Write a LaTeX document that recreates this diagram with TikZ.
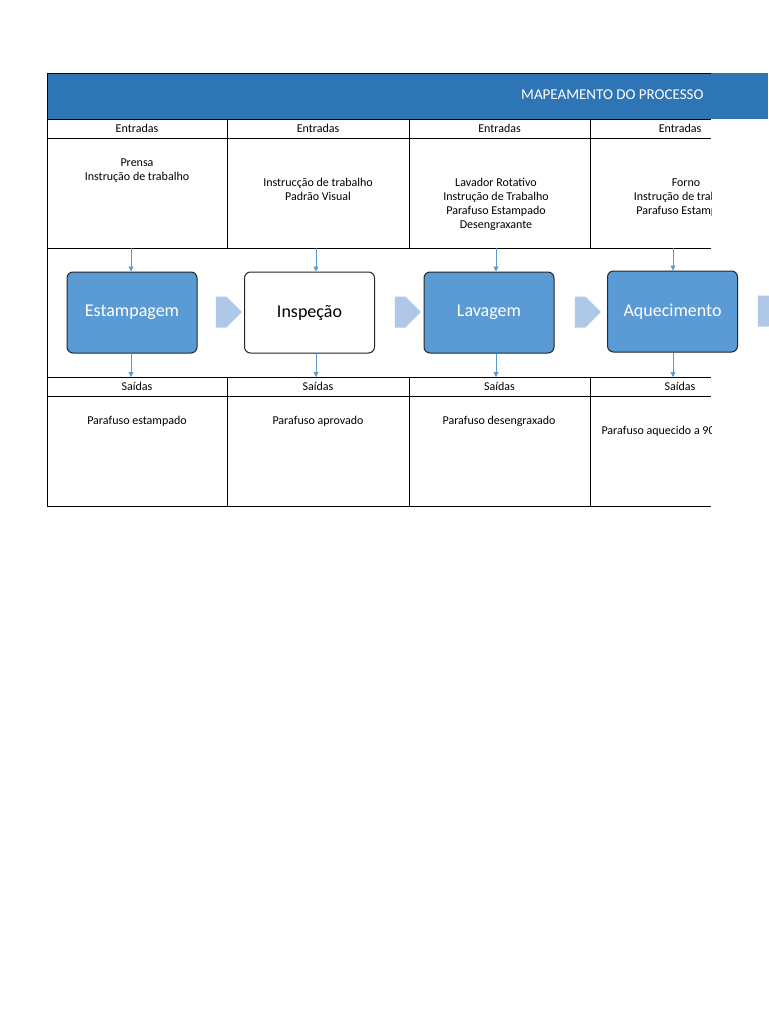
\documentclass[tikz,border=0pt]{standalone}
\usepackage{fontspec}
\setmainfont{Carlito}
\usetikzlibrary{shapes.arrows,arrows.meta}
\definecolor{hdr}{HTML}{2E75B6}
\definecolor{box}{HTML}{5B9BD5}
\definecolor{barrow}{HTML}{AFC8E8}
\definecolor{sarrow}{HTML}{5B9BD5}
\begin{document}
\begin{tikzpicture}[x=1pt,y=-1pt,
 grid/.style={line width=0.8pt,black},
 lbl/.style={font=\fontsize{12}{14}\selectfont,align=center,text=black},
 proc/.style={rounded corners=6pt,draw=black!85,line width=1pt,minimum width=130pt,minimum height=81pt,font=\fontsize{18}{20}\selectfont,inner sep=0pt},
 big/.style={single arrow,draw=none,fill=barrow,minimum width=31pt,single arrow head extend=0pt,single arrow tip angle=90,minimum height=26pt,inner sep=0pt},
 small/.style={-{Triangle[length=5pt,width=5pt]},sarrow,line width=0.8pt}]
\useasboundingbox (0,0) rectangle (768,1024);
\fill[white] (0,0) rectangle (768,1024);
\fill[hdr] (47,73) rectangle (768,119);
\begin{scope}
\clip (0,0) rectangle (711,1024);
\node[anchor=east,text=white,font=\fontsize{15}{17}\selectfont] (title) at (707,95) {MAPEAMENTO DO PROCESSO};
\draw[grid] (47,73) -- (711,73);
\draw[grid] (47,73) -- (47,506);
\foreach \y in {119,138,248,377,396,506} \draw[grid] (47,\y) -- (711,\y);
\foreach \x in {227,409,590} {\draw[grid] (\x,119) -- (\x,248); \draw[grid] (\x,377) -- (\x,506);}
\foreach \c/\n in {137/a,318/b,499.5/c,680/d} {
 \node[lbl] (e\n) at (\c,128) {Entradas};
 \node[lbl] (s\n) at (\c,386) {Saídas};}
\node[lbl,anchor=north] (i1) at (137,155) {Prensa\\Instrução de trabalho};
\node[lbl,anchor=north] (i2) at (318,175) {Instrucção de trabalho\\Padrão Visual};
\node[lbl,anchor=north] (i3) at (496,175) {Lavador Rotativo\\Instrução de Trabalho\\Parafuso Estampado\\Desengraxante};
\node[lbl,anchor=north] (i4) at (686,175) {Forno\\Instrução de trabalho\\Parafuso Estampado};
\node[lbl] (o1) at (137,421) {Parafuso estampado};
\node[lbl] (o2) at (318,421) {Parafuso aprovado};
\node[lbl] (o3) at (499,421) {Parafuso desengraxado};
\node[lbl,anchor=west] (o4) at (598,431) {Parafuso aquecido a 900 ºC};
\end{scope}
\node[proc,fill=box,text=white] (p1) at (132,312.5) {Estampagem};
\node[proc,fill=white,text=black] (p2) at (309.5,312.5) {Inspeção};
\node[proc,fill=box,text=white] (p3) at (489,312.5) {Lavagem};
\node[proc,fill=box,text=white] (p4) at (672.5,311.5) {Aquecimento};
\node[big] (a1) at (221,312) {};
\node[big] (a2) at (400,312) {};
\node[big] (a3) at (580,312) {};
\node[big] (a4) at (763,311) {};
\foreach \p/\x in {p1/131,p2/316,p3/496,p4/673} {
 \coordinate (t\p) at (\x,248); \coordinate (b\p) at (\x,377);
 \draw[small] (t\p) -- (t\p |- \p.north);
 \draw[small] (b\p |- \p.south) -- (b\p);}
\end{tikzpicture}
\end{document}
